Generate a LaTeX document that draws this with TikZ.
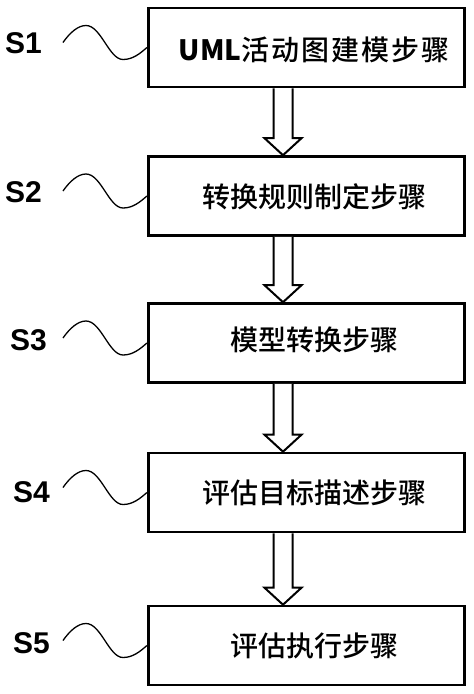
\documentclass[tikz,border=0pt]{standalone}
\usepackage{fontspec}
\setmainfont{Liberation Sans}
\newfontfamily\cjk[UprightFont=* Medium]{Noto Sans CJK SC}
\newfontfamily\cjkwide[UprightFont=* Medium,LetterSpace=7]{Noto Sans CJK SC}
\usetikzlibrary{calc}
\tikzset{
  stepbox/.style={draw, line width=2.6pt, minimum width=316.5pt, minimum height=79pt, inner sep=0pt},
  steptext/.style={font=\fontsize{28}{30}\selectfont\cjk, inner sep=0pt},
  steplabel/.style={font=\fontsize{30}{32}\selectfont\bfseries, inner sep=0pt, anchor=west},
  wave/.style={line width=1.3pt},
  blockarrow/.style={line width=2pt, fill=white, line join=miter}
}
\begin{document}
\begin{tikzpicture}[x=1pt,y=-1pt]
\useasboundingbox (0,0) rectangle (474,694);
% boxes
\node[stepbox] (b1) at (306.5,47.5) {};
\node[stepbox] (b2) at (306.5,196) {};
\node[stepbox] (b3) at (306.5,343) {};
\node[stepbox] (b4) at (306.5,492.5) {};
\node[stepbox] (b5) at (306.5,645.5) {};
% texts
\node[steptext] (t1) at ($(b1.center)+(7.5,2)$) {{\bfseries UML}\cjkwide 活动图建模步骤};
\node[steptext] (t2) at ($(b2.center)+(7.5,1)$) {转换规则制定步骤};
\node[steptext] (t3) at ($(b3.center)+(7.5,-3)$) {模型转换步骤};
\node[steptext] (t4) at ($(b4.center)+(7.5,0)$) {评估目标描述步骤};
\node[steptext] (t5) at ($(b5.center)+(7.5,0)$) {评估执行步骤};
% labels
\node[steplabel] (s1) at (5,43) {S1};
\node[steplabel] (s2) at (5,192) {S2};
\node[steplabel] (s3) at (10,340) {S3};
\node[steplabel] (s4) at (13,492) {S4};
\node[steplabel] (s5) at (13,643) {S5};
% waves
\foreach \b/\cy in {b1/47.5,b2/196,b3/343,b4/492.5,b5/645.5}{
  \coordinate (w\b) at (63,\cy-5);
  \draw[wave] (w\b) .. controls +(7,-10) and +(-8,0) .. ++(23,-17)
     .. controls +(15,0) and +(-14,0) .. ++(37,34)
     .. controls +(10,0) and +(-7,6) .. (\b.west);
}
% block arrows
\foreach \a/\c in {b1/b2,b2/b3,b3/b4,b4/b5}{
  \draw[blockarrow] ($(\a.south)+(-33,0)$) -- ($(\c.north)+(-33,-17)$)
     -- ($(\c.north)+(-42,-17)$) -- ($(\c.north)+(-23.5,0)$)
     -- ($(\c.north)+(-5,-17)$) -- ($(\c.north)+(-14,-17)$)
     -- ($(\a.south)+(-14,0)$);
}
\end{tikzpicture}
\end{document}
